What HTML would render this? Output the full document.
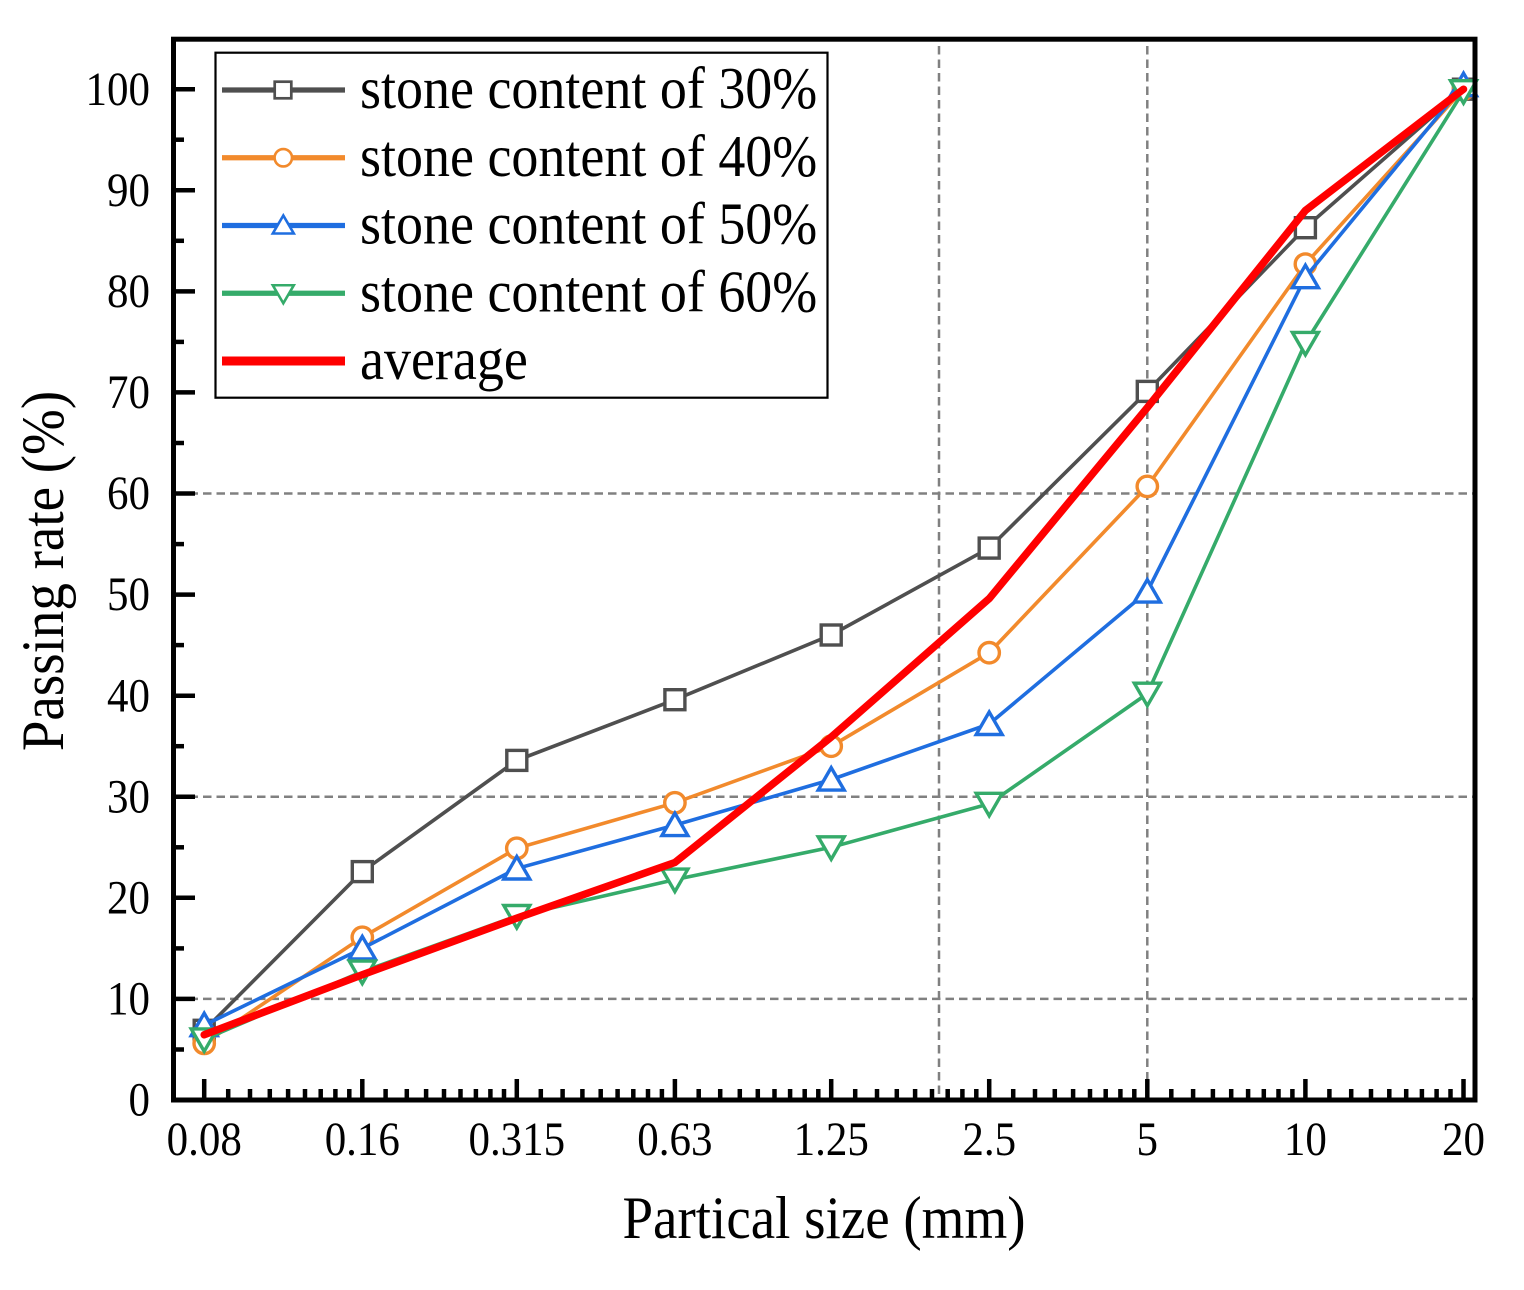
<!DOCTYPE html>
<html><head><meta charset="utf-8"><style>
html,body{margin:0;padding:0;background:#fff;}
svg{display:block;}
text{font-family:"Liberation Serif","Times New Roman",serif;fill:#000;}
</style></head><body>
<svg width="1524" height="1290" viewBox="0 0 1524 1290" xmlns="http://www.w3.org/2000/svg">
<rect x="0" y="0" width="1524" height="1290" fill="#fff"/>

<!-- grid lines -->
<g stroke="#808080" stroke-width="2.5" stroke-dasharray="8.5 5" fill="none">
<line x1="176" y1="998.9" x2="1472.5" y2="998.9"/>
<line x1="176" y1="796.8" x2="1472.5" y2="796.8"/>
<line x1="176" y1="493.5" x2="1472.5" y2="493.5"/>
<line x1="939" y1="46" x2="939" y2="1097.5"/>
<line x1="1147.3" y1="46" x2="1147.3" y2="1097.5"/>
</g>

<!-- ticks -->
<g stroke="#000" stroke-width="4.5">
<line x1="176" y1="998.9" x2="195" y2="998.9"/>
<line x1="176" y1="897.8" x2="195" y2="897.8"/>
<line x1="176" y1="796.8" x2="195" y2="796.8"/>
<line x1="176" y1="695.7" x2="195" y2="695.7"/>
<line x1="176" y1="594.6" x2="195" y2="594.6"/>
<line x1="176" y1="493.5" x2="195" y2="493.5"/>
<line x1="176" y1="392.4" x2="195" y2="392.4"/>
<line x1="176" y1="291.4" x2="195" y2="291.4"/>
<line x1="176" y1="190.3" x2="195" y2="190.3"/>
<line x1="176" y1="89.2" x2="195" y2="89.2"/>
<line x1="176" y1="1049.5" x2="184" y2="1049.5"/>
<line x1="176" y1="948.4" x2="184" y2="948.4"/>
<line x1="176" y1="847.3" x2="184" y2="847.3"/>
<line x1="176" y1="746.2" x2="184" y2="746.2"/>
<line x1="176" y1="645.1" x2="184" y2="645.1"/>
<line x1="176" y1="544.1" x2="184" y2="544.1"/>
<line x1="176" y1="443.0" x2="184" y2="443.0"/>
<line x1="176" y1="341.9" x2="184" y2="341.9"/>
<line x1="176" y1="240.8" x2="184" y2="240.8"/>
<line x1="176" y1="139.7" x2="184" y2="139.7"/>
<line x1="204.2" y1="1098" x2="204.2" y2="1079"/>
<line x1="362.3" y1="1098" x2="362.3" y2="1079"/>
<line x1="516.8" y1="1098" x2="516.8" y2="1079"/>
<line x1="674.9" y1="1098" x2="674.9" y2="1079"/>
<line x1="831.2" y1="1098" x2="831.2" y2="1079"/>
<line x1="989.2" y1="1098" x2="989.2" y2="1079"/>
<line x1="1147.3" y1="1098" x2="1147.3" y2="1079"/>
<line x1="1305.4" y1="1098" x2="1305.4" y2="1079"/>
<line x1="1463.5" y1="1098" x2="1463.5" y2="1079"/>
</g>
<path stroke="#000" stroke-width="4.5" fill="none" d="
M228.2 1098V1089 M250.0 1098V1089 M269.8 1098V1089 M288.1 1098V1089 M305.0 1098V1089 M320.7 1098V1089 M335.4 1098V1089 M349.3 1098V1089
M385.6 1098V1089 M406.8 1098V1089 M426.1 1098V1089 M444.0 1098V1089 M460.5 1098V1089 M475.9 1098V1089 M490.4 1098V1089 M504.0 1098V1089
M540.8 1098V1089 M562.6 1098V1089 M582.4 1098V1089 M600.7 1098V1089 M617.6 1098V1089 M633.3 1098V1089 M648.0 1098V1089 M661.9 1098V1089
M698.7 1098V1089 M720.2 1098V1089 M739.8 1098V1089 M757.8 1098V1089 M774.5 1098V1089 M790.1 1098V1089 M804.7 1098V1089 M818.3 1098V1089
M855.2 1098V1089 M877.0 1098V1089 M896.8 1098V1089 M915.1 1098V1089 M932.0 1098V1089 M947.7 1098V1089 M962.4 1098V1089 M976.3 1098V1089
M1013.2 1098V1089 M1035.0 1098V1089 M1054.8 1098V1089 M1073.1 1098V1089 M1090.0 1098V1089 M1105.7 1098V1089 M1120.4 1098V1089 M1134.3 1098V1089
M1171.3 1098V1089 M1193.1 1098V1089 M1212.9 1098V1089 M1231.2 1098V1089 M1248.1 1098V1089 M1263.8 1098V1089 M1278.5 1098V1089 M1292.4 1098V1089
M1329.4 1098V1089 M1351.2 1098V1089 M1371.0 1098V1089 M1389.3 1098V1089 M1406.2 1098V1089 M1421.9 1098V1089 M1436.6 1098V1089 M1450.5 1098V1089"/>

<!-- series: 30% gray squares -->
<g stroke="#4f4f4f" stroke-width="3.6" fill="none">
<polyline points="204.2,1030.3 362.3,871.6 516.8,760.4 674.9,699.7 831.2,635.0 989.2,548.1 1147.3,391.4 1305.4,227.7 1463.5,89.2"/>
<g fill="#fff" stroke-width="3.4">
<rect x="194.2" y="1020.3" width="20" height="20"/>
<rect x="352.3" y="861.6" width="20" height="20"/>
<rect x="506.8" y="750.4" width="20" height="20"/>
<rect x="664.9" y="689.7" width="20" height="20"/>
<rect x="821.2" y="625.0" width="20" height="20"/>
<rect x="979.2" y="538.1" width="20" height="20"/>
<rect x="1137.3" y="381.4" width="20" height="20"/>
<rect x="1295.4" y="217.7" width="20" height="20"/>
<rect x="1453.5" y="79.2" width="20" height="20"/>
</g>
</g>

<!-- series: 40% orange circles -->
<g stroke="#f28a2c" stroke-width="3.6" fill="none">
<polyline points="204.2,1043.4 362.3,937.3 516.8,848.3 674.9,802.8 831.2,746.2 989.2,652.7 1147.3,486.4 1305.4,264.1 1463.5,89.2"/>
<g fill="#fff" stroke-width="3.4">
<circle cx="204.2" cy="1043.4" r="10.2"/>
<circle cx="362.3" cy="937.3" r="10.2"/>
<circle cx="516.8" cy="848.3" r="10.2"/>
<circle cx="674.9" cy="802.8" r="10.2"/>
<circle cx="831.2" cy="746.2" r="10.2"/>
<circle cx="989.2" cy="652.7" r="10.2"/>
<circle cx="1147.3" cy="486.4" r="10.2"/>
<circle cx="1305.4" cy="264.1" r="10.2"/>
<circle cx="1463.5" cy="89.2" r="10.2"/>
</g>
</g>

<!-- series: 50% blue up-triangles -->
<g stroke="#1f6ee0" stroke-width="3.6" fill="none">
<polyline points="204.2,1025.2 362.3,948.4 516.8,868.5 674.9,825.1 831.2,779.6 989.2,724.0 1147.3,591.6 1305.4,277.2 1463.5,85.2"/>
<g fill="#fff" stroke-width="3.4">
<polygon points="204.2,1013.2 191.2,1035.7 217.2,1035.7"/>
<polygon points="362.3,936.4 349.3,958.9 375.3,958.9"/>
<polygon points="516.8,856.5 503.8,879.0 529.8,879.0"/>
<polygon points="674.9,813.1 661.9,835.6 687.9,835.6"/>
<polygon points="831.2,767.6 818.2,790.1 844.2,790.1"/>
<polygon points="989.2,712.0 976.2,734.5 1002.2,734.5"/>
<polygon points="1147.3,579.6 1134.3,602.1 1160.3,602.1"/>
<polygon points="1305.4,265.2 1292.4,287.7 1318.4,287.7"/>
<polygon points="1463.5,73.2 1450.5,95.7 1476.5,95.7"/>
</g>
</g>

<!-- series: 60% green down-triangles -->
<g stroke="#35ab6a" stroke-width="3.6" fill="none">
<polyline points="204.2,1039.4 362.3,971.6 516.8,916.0 674.9,879.6 831.2,847.3 989.2,803.8 1147.3,693.7 1305.4,342.9 1463.5,91.2"/>
<g fill="#fff" stroke-width="3.4">
<polygon points="204.2,1051.4 191.2,1028.9 217.2,1028.9"/>
<polygon points="362.3,983.6 349.3,961.1 375.3,961.1"/>
<polygon points="516.8,928.0 503.8,905.5 529.8,905.5"/>
<polygon points="674.9,891.6 661.9,869.1 687.9,869.1"/>
<polygon points="831.2,859.3 818.2,836.8 844.2,836.8"/>
<polygon points="989.2,815.8 976.2,793.3 1002.2,793.3"/>
<polygon points="1147.3,705.7 1134.3,683.2 1160.3,683.2"/>
<polygon points="1305.4,354.9 1292.4,332.4 1318.4,332.4"/>
<polygon points="1463.5,103.2 1450.5,80.7 1476.5,80.7"/>
</g>
</g>

<!-- average red -->
<polyline stroke="#ff0000" stroke-width="7.5" fill="none" stroke-linejoin="round" stroke-linecap="round"
points="204.2,1034.8 362.3,974.7 516.8,918.1 674.9,862.5 831.2,737.1 989.2,598.6 1147.3,407.6 1305.4,210.5 1463.5,89.2"/>

<!-- axes frame -->
<rect x="173.5" y="39.2" width="1301.5" height="1060.8" fill="none" stroke="#000" stroke-width="5"/>

<!-- legend -->
<rect x="215.5" y="52.7" width="612" height="345" fill="#fff" stroke="#000" stroke-width="2.2"/>
<line x1="222" y1="90" x2="345" y2="90" stroke="#4f4f4f" stroke-width="5.3"/>
<rect x="274.7" y="81.7" width="16.6" height="16.6" fill="#fff" stroke="#4f4f4f" stroke-width="2.7"/>
<line x1="222" y1="157.75" x2="345" y2="157.75" stroke="#f28a2c" stroke-width="5.3"/>
<circle cx="283.3" cy="157.75" r="8.7" fill="#fff" stroke="#f28a2c" stroke-width="2.6"/>
<line x1="222" y1="225.5" x2="345" y2="225.5" stroke="#1f6ee0" stroke-width="5.3"/>
<polygon points="283.3,215.5 272.8,233.5 293.8,233.5" fill="#fff" stroke="#1f6ee0" stroke-width="2.6"/>
<line x1="222" y1="293.25" x2="345" y2="293.25" stroke="#35ab6a" stroke-width="5.3"/>
<polygon points="283.3,303.25 272.8,285.25 293.8,285.25" fill="#fff" stroke="#35ab6a" stroke-width="2.6"/>
<line x1="222" y1="361" x2="345" y2="361" stroke="#ff0000" stroke-width="9"/>
<g font-size="54">
<text transform="translate(360,108) scale(1,1.1)">stone content of 30%</text>
<text transform="translate(360,175.75) scale(1,1.1)">stone content of 40%</text>
<text transform="translate(360,243.5) scale(1,1.1)">stone content of 50%</text>
<text transform="translate(360,311.25) scale(1,1.1)">stone content of 60%</text>
<text transform="translate(360,379) scale(1,1.1)">average</text>
</g>

<!-- y tick labels -->
<g font-size="43" text-anchor="end">
<text transform="translate(150,1115.6) scale(1,1.1)">0</text>
<text transform="translate(150,1014.5) scale(1,1.1)">10</text>
<text transform="translate(150,913.4) scale(1,1.1)">20</text>
<text transform="translate(150,812.4) scale(1,1.1)">30</text>
<text transform="translate(150,711.3) scale(1,1.1)">40</text>
<text transform="translate(150,610.2) scale(1,1.1)">50</text>
<text transform="translate(150,509.1) scale(1,1.1)">60</text>
<text transform="translate(150,408.0) scale(1,1.1)">70</text>
<text transform="translate(150,307.0) scale(1,1.1)">80</text>
<text transform="translate(150,205.9) scale(1,1.1)">90</text>
<text transform="translate(150,104.8) scale(1,1.1)">100</text>
</g>

<!-- x tick labels -->
<g font-size="43" text-anchor="middle">
<text transform="translate(204.2,1155) scale(1,1.1)">0.08</text>
<text transform="translate(362.3,1155) scale(1,1.1)">0.16</text>
<text transform="translate(516.8,1155) scale(1,1.1)">0.315</text>
<text transform="translate(674.9,1155) scale(1,1.1)">0.63</text>
<text transform="translate(831.2,1155) scale(1,1.1)">1.25</text>
<text transform="translate(989.2,1155) scale(1,1.1)">2.5</text>
<text transform="translate(1147.3,1155) scale(1,1.1)">5</text>
<text transform="translate(1305.4,1155) scale(1,1.1)">10</text>
<text transform="translate(1463.5,1155) scale(1,1.1)">20</text>
</g>

<!-- axis titles -->
<text transform="translate(824,1238) scale(1,1.1)" font-size="55" text-anchor="middle">Partical size (mm)</text>
<text transform="translate(63,571) rotate(-90) scale(1,1.1)" font-size="55" text-anchor="middle">Passing rate (%)</text>
</svg>
</body></html>
